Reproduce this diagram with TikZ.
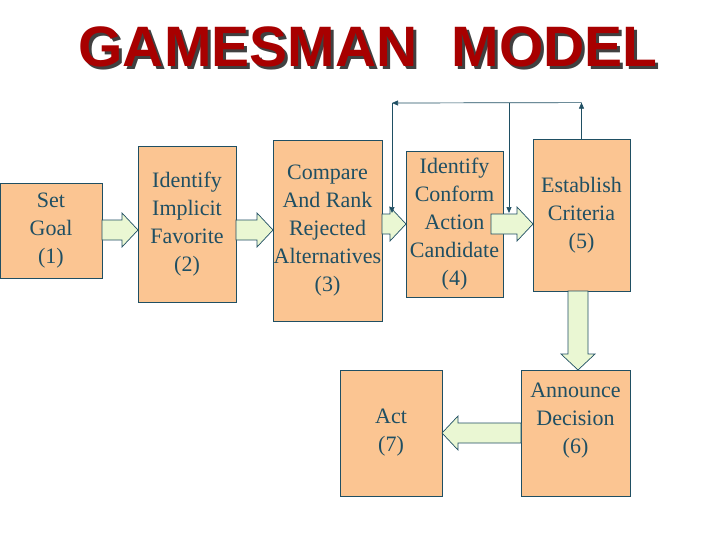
\documentclass[tikz,border=0pt]{standalone}
\usepackage{fontspec}
\setmainfont{Liberation Serif}
\newfontfamily\titlefont{Liberation Sans}
\usetikzlibrary{arrows.meta,calc}
\definecolor{boxfill}{HTML}{FBC592}
\definecolor{txt}{HTML}{1F4F63}
\definecolor{arrfill}{HTML}{EAF7D3}
\definecolor{ttl}{HTML}{A80000}
\tikzset{
 box/.style={draw=txt, line width=0.8pt, fill=boxfill, text=txt, align=center, font=\fontsize{22}{28}\selectfont, inner sep=0pt},
 blkst/.style={draw=txt, line width=0.7pt, fill=arrfill, line join=miter},
 fb/.style={draw=txt, line width=0.7pt, -{Triangle[length=6pt,width=5pt]}}
}
% #1 x, #2 y, #3 length, #4 rotation
\newcommand\blockarr[4]{%
 \begin{scope}[shift={(#1,#2)}, rotate=#4]
 \draw[blkst] (0,-10) -- ({#3-16},-10) -- ({#3-16},-17) -- (#3,0) -- ({#3-16},17) -- ({#3-16},10) -- (0,10) -- cycle;
 \end{scope}}
\begin{document}
\begin{tikzpicture}[x=1pt,y=-1pt]
\useasboundingbox (0,0) rectangle (728,546);
\fill[white] (0,0) rectangle (728,546);
\node[text=black!75, font=\titlefont\bfseries\fontsize{57}{60}\selectfont] at (371,50) {GAMESMAN\hspace{0.6em}MODEL};
\node (title) [text=ttl, font=\titlefont\bfseries\fontsize{57}{60}\selectfont] at (368,47) {GAMESMAN\hspace{0.6em}MODEL};
\node (b1) [box, minimum width=102pt, minimum height=95pt] at (51,230.5) {Set\\Goal\\(1)};
\node (b2) [box, minimum width=98pt, minimum height=156pt] at (187,224) {Identify\\Implicit\\Favorite\\(2)};
\node (b3) [box, minimum width=109pt, minimum height=181pt] at (327.5,230.5) {Compare\\And Rank\\Rejected\\Alternatives\\(3)};
\node (b4) [box, minimum width=97pt, minimum height=146pt] at (454.5,224) {Identify\\Conform\\Action\\Candidate\\(4)};
\node (b5) [box, minimum width=97pt, minimum height=152pt] at (581.5,215) {Establish\\Criteria\\(5)};
\node (b6) [box, minimum width=109pt, minimum height=126pt] at (575.5,433) {};
\node (t6) [text=txt, align=center, font=\fontsize{22}{28}\selectfont, inner sep=0pt] at (575.5,421) {Announce\\Decision\\(6)};
\node (b7) [box, minimum width=102pt, minimum height=126pt] at (391,433) {Act\\(7)};
\blockarr{102}{230}{36}{0}
\blockarr{236}{230}{37}{0}
\blockarr{382}{224}{24}{0}
\blockarr{491}{224}{42}{0}
\blockarr{578}{291}{79}{-90}
\blockarr{521}{433}{79}{180}
\coordinate (top5) at ($(b5.north)+(0,-36)$);
\coordinate (lft) at (392,103);
\coordinate (mid) at (509,103);
\draw[fb] (b5.north) -- (top5);
\draw[fb] (top5) -- (lft);
\draw[fb] (lft) -- (392,213);
\draw[fb] (mid) -- (509,213);
\end{tikzpicture}
\end{document}
